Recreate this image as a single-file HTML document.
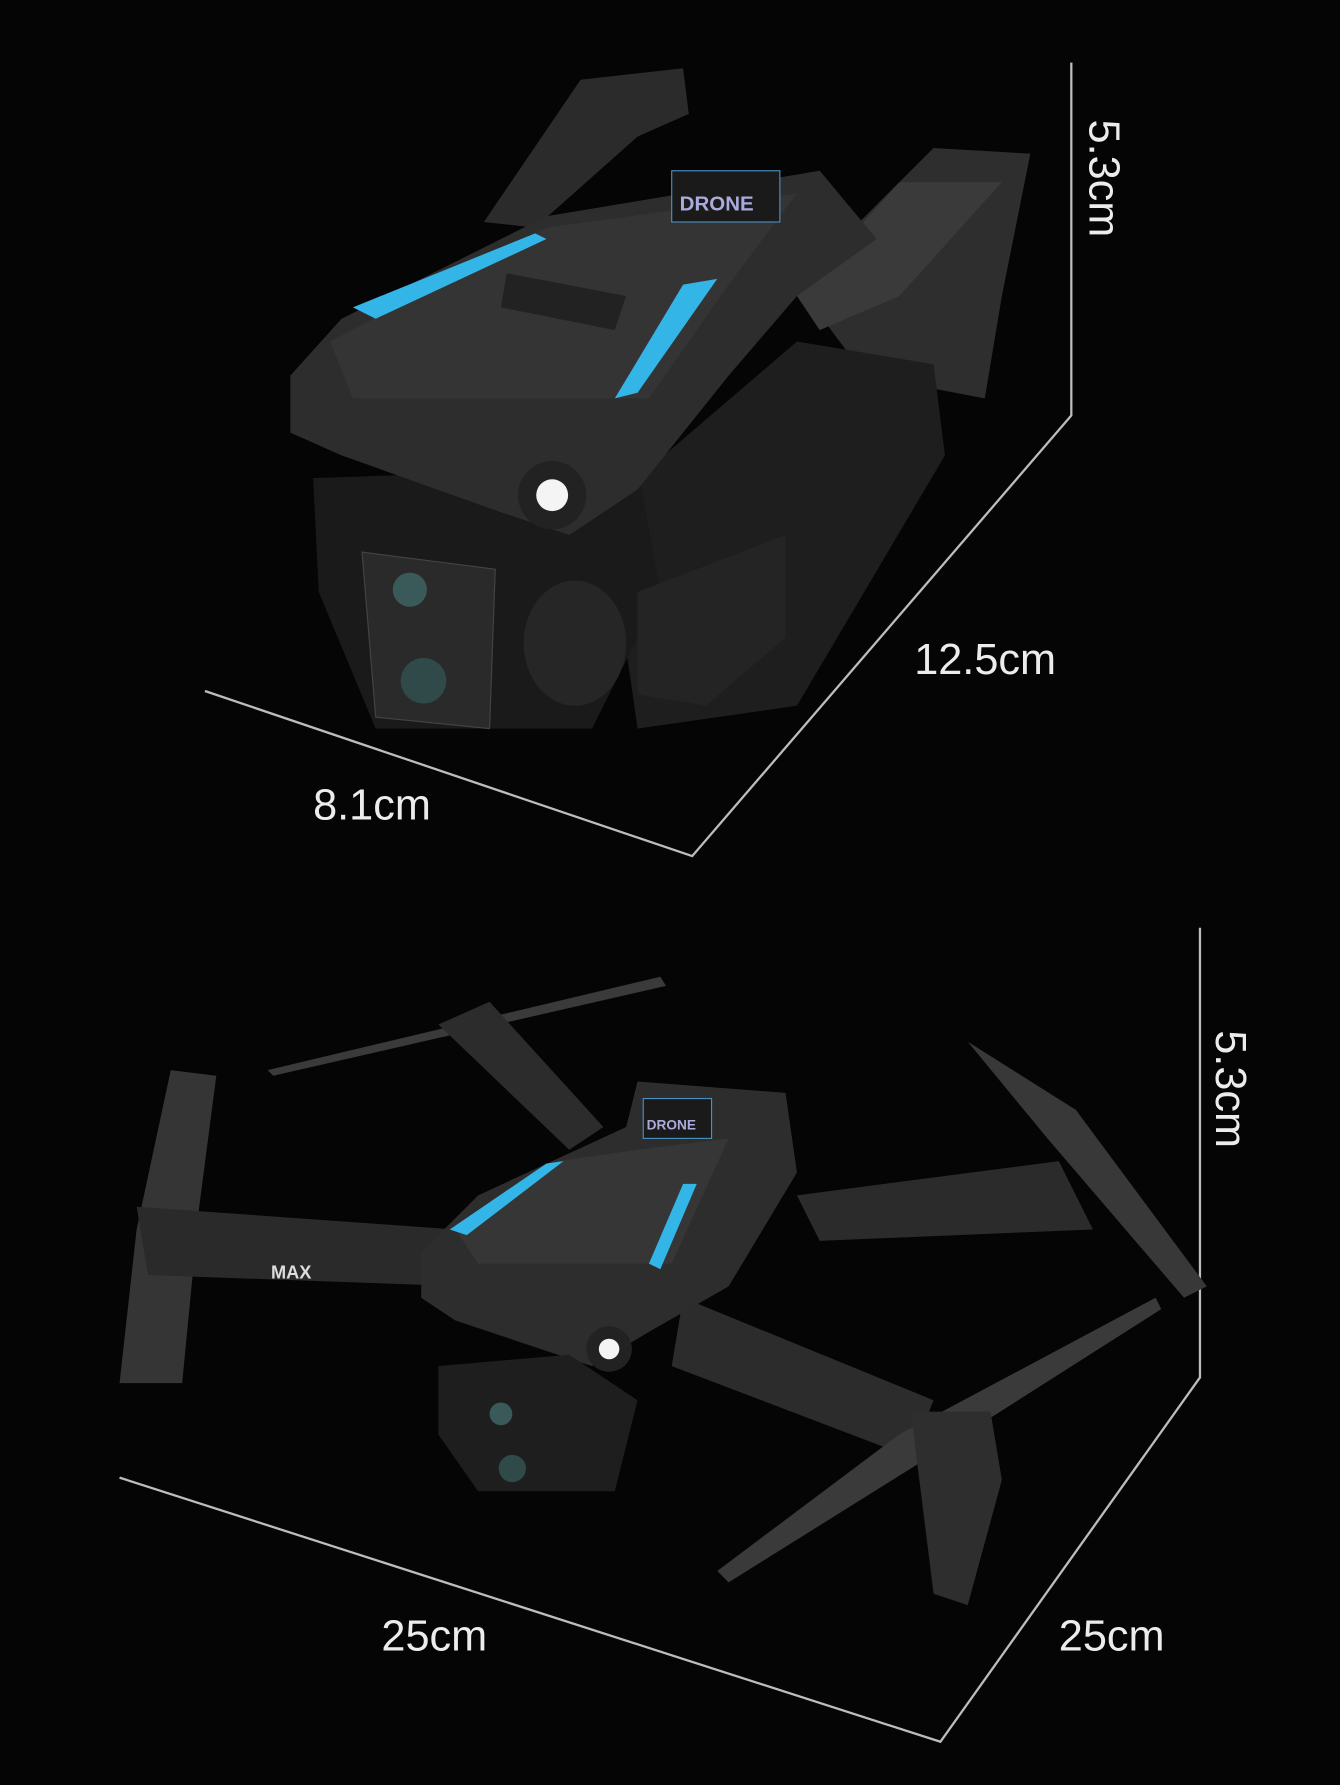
<!DOCTYPE html>
<html><head><meta charset="utf-8"><style>
html,body{margin:0;padding:0;background:#050505;}
svg{display:block}
text{font-family:"Liberation Sans",sans-serif;fill:#ececec;font-size:38px}
</style></head><body>
<svg width="1340" height="1785" viewBox="0 0 1177 1568" preserveAspectRatio="none">
<rect width="1177" height="1568" fill="#050505"/>
<g stroke="#bdbdbd" stroke-width="2" fill="none">
<path d="M941 55 L941 365 L608 752 L180 607"/>
<path d="M1054 815 L1054 1210 L826 1530 L105 1298"/>
</g>
<text x="275" y="720">8.1cm</text>
<text x="803" y="592">12.5cm</text>
<text transform="translate(957,105) rotate(90)">5.3cm</text>
<text x="335" y="1450">25cm</text>
<text x="930" y="1450">25cm</text>
<text transform="translate(1068,905) rotate(90)">5.3cm</text>

<!-- top folded drone -->
<g>
<path d="M425 195 L510 70 L600 60 L605 100 L560 120 L470 200Z" fill="#2b2b2b"/>
<path d="M700 250 L820 130 L905 135 L900 160 L880 260 L865 350 L760 330Z" fill="#2e2e2e"/>
<path d="M700 260 L790 160 L880 160 L790 260 L720 290Z" fill="#3a3a3a"/>
<path d="M560 420 L700 300 L820 320 L830 400 L700 620 L560 640 L540 500Z" fill="#1e1e1e"/>
<path d="M275 420 L560 410 L580 520 L520 640 L330 640 L280 520Z" fill="#1a1a1a"/>
<path d="M255 330 L300 280 L480 190 L720 150 L770 210 L700 260 L640 330 L560 430 L500 470 L440 450 L300 400 L255 380Z" fill="#2d2d2d"/>
<path d="M290 300 L480 200 L700 170 L640 250 L570 350 L310 350Z" fill="#343434"/>
<path d="M310 270 L470 205 L480 210 L330 280Z" fill="#33b5e8"/>
<path d="M540 350 L600 250 L630 245 L560 345Z" fill="#33b5e8"/>
<rect x="590" y="150" width="95" height="45" fill="#1a1a1a" stroke="#4a90c0"/>
<text x="597" y="185" style="font-size:18px;font-weight:bold;fill:#aad">DRONE</text>
<path d="M445 240 L550 260 L540 290 L440 270Z" fill="#222"/>
<circle cx="485" cy="435" r="30" fill="#222"/>
<circle cx="485" cy="435" r="14" fill="#f4f4f4"/>
<path d="M318 485 L435 500 L430 640 L330 630Z" fill="#2a2a2a" stroke="#444"/>
<circle cx="360" cy="518" r="15" fill="#3a5a5a"/>
<circle cx="372" cy="598" r="20" fill="#2f4a48"/>
<ellipse cx="505" cy="565" rx="45" ry="55" fill="#262626"/>
<path d="M560 520 L690 470 L690 560 L620 620 L560 610Z" fill="#242424"/>
</g>

<!-- bottom unfolded drone -->
<g>
<path d="M235 940 L580 858 L585 866 L240 945Z" fill="#3a3a3a"/>
<path d="M385 900 L430 880 L530 990 L500 1010Z" fill="#2c2c2c"/>
<path d="M150 940 L190 945 L175 1060 L160 1215 L105 1215 L120 1080Z" fill="#353535"/>
<path d="M120 1060 L400 1080 L410 1130 L130 1120Z" fill="#2a2a2a"/>
<path d="M850 915 L945 975 L1060 1130 L1040 1140 L920 1000Z" fill="#383838"/>
<path d="M700 1050 L930 1020 L960 1080 L720 1090Z" fill="#2b2b2b"/>
<path d="M600 1140 L820 1230 L800 1280 L590 1200Z" fill="#2c2c2c"/>
<path d="M630 1380 L790 1260 L1015 1140 L1020 1150 L800 1290 L640 1390Z" fill="#3a3a3a"/>
<path d="M800 1240 L870 1240 L880 1300 L850 1410 L820 1400Z" fill="#2e2e2e"/>
<path d="M370 1100 L420 1050 L550 990 L560 950 L690 960 L700 1030 L640 1130 L570 1170 L520 1200 L400 1160 L370 1140Z" fill="#2d2d2d"/>
<path d="M400 1080 L490 1020 L560 1010 L640 1000 L590 1110 L420 1110Z" fill="#363636"/>
<path d="M395 1080 L480 1022 L495 1020 L410 1085Z" fill="#33b5e8"/>
<path d="M570 1110 L600 1040 L612 1040 L580 1115Z" fill="#33b5e8"/>
<rect x="565" y="965" width="60" height="35" fill="#1a1a1a" stroke="#4a90c0"/>
<text x="568" y="992" style="font-size:12px;font-weight:bold;fill:#aad">DRONE</text>
<text x="238" y="1123" style="font-size:16px;font-weight:bold;fill:#ddd">MAX</text>
<circle cx="535" cy="1185" r="20" fill="#222"/>
<circle cx="535" cy="1185" r="9" fill="#f4f4f4"/>
<path d="M385 1200 L500 1190 L560 1230 L540 1310 L420 1310 L385 1260Z" fill="#1e1e1e"/>
<circle cx="440" cy="1242" r="10" fill="#3a5a5a"/>
<circle cx="450" cy="1290" r="12" fill="#2f4a48"/>
</g>
</svg>
</body></html>
